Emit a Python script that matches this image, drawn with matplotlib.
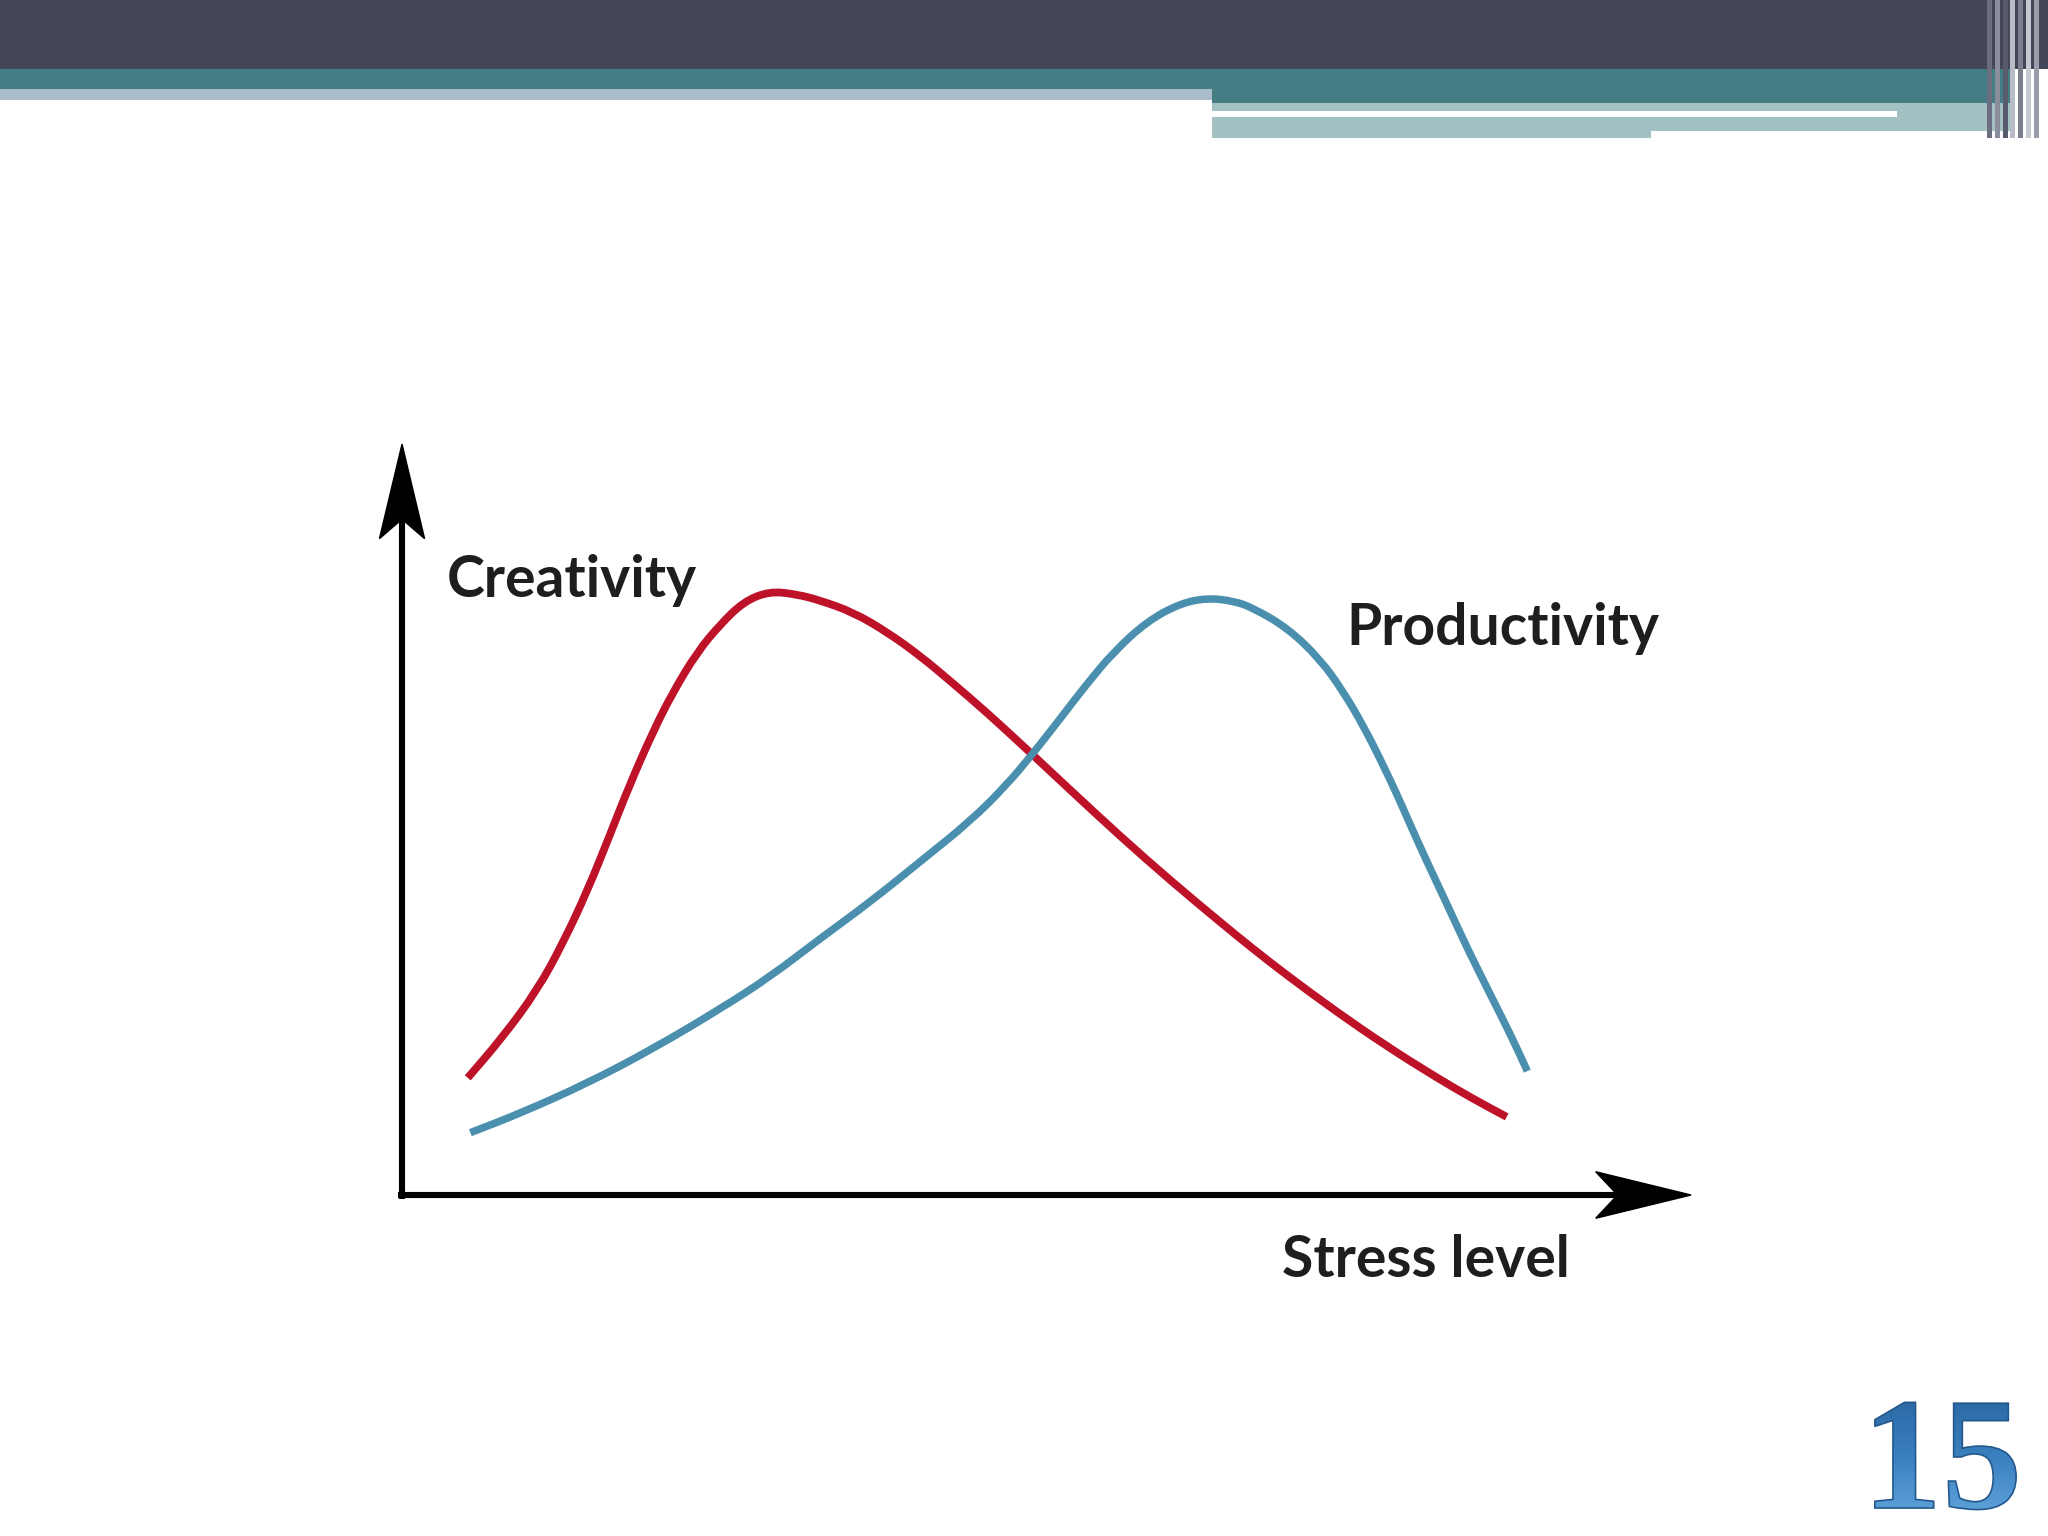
import numpy as np
import matplotlib.pyplot as plt
from matplotlib.patches import Rectangle, PathPatch, Polygon
from matplotlib.path import Path
from matplotlib.textpath import TextPath
from matplotlib.font_manager import FontProperties
from matplotlib.colors import LinearSegmentedColormap
from matplotlib.transforms import Affine2D

# curves (stress level 0-100, response 0-100)
creativity_x = [5.1, 7.8, 10.5, 12.5, 14.4, 16.0, 17.7, 19.5, 21.0, 22.9, 24.7, 26.5, 28.5,
                30.6, 32.4, 35.0, 37.6, 40.2, 42.7, 45.4, 48.5, 51.8, 55.7, 59.6, 63.5,
                66.0, 68.7, 72.5, 76.4, 80.3, 83.1, 85.7]
creativity_y = [15.6, 21.0, 27.3, 33.6, 40.6, 47.4, 54.8, 61.8, 66.9, 72.3, 76.0, 79.0, 80.4,
                80.0, 79.2, 77.6, 75.0, 71.8, 68.2, 64.2, 59.3, 54.0, 47.8, 41.9, 36.3,
                32.8, 29.2, 24.4, 19.8, 15.6, 12.8, 10.4]
productivity_x = [5.3, 9.2, 14.4, 19.5, 24.7, 28.5, 32.4, 36.3, 40.2, 44.1, 46.9, 49.0, 51.0,
                  53.1, 55.2, 57.8, 60.4, 62.5, 64.5, 66.0, 68.7, 71.2, 73.0, 74.6, 75.9,
                  77.2, 78.4, 79.4, 81.1, 82.6, 84.4, 86.1, 87.3]
productivity_y = [8.3, 10.9, 14.9, 19.5, 24.8, 29.0, 34.1, 39.0, 44.4, 49.8, 54.6, 58.9, 63.3,
                  68.0, 72.3, 76.4, 78.8, 79.5, 79.1, 78.2, 75.5, 71.4, 67.1, 62.4, 58.0,
                  53.3, 48.6, 44.8, 38.6, 33.0, 26.8, 21.0, 16.5]

red = '#be1229'
blue = '#4b8fae'
ink = '#1e1e1e'


def smooth_path(xs, ys):
    pts = list(zip(xs, ys))
    verts = [pts[0], ((pts[0][0] + pts[1][0]) / 2, (pts[0][1] + pts[1][1]) / 2)]
    codes = [Path.MOVETO, Path.LINETO]
    for i in range(1, len(pts) - 1):
        a, b = pts[i], pts[i + 1]
        verts += [a, ((a[0] + b[0]) / 2, (a[1] + b[1]) / 2)]
        codes += [Path.CURVE3, Path.CURVE3]
    verts.append(pts[-1])
    codes.append(Path.LINETO)
    return Path(verts, codes)


fig = plt.figure(figsize=(20.48, 15.36), dpi=100)
fig.patch.set_facecolor('white')

# slide header
bg = fig.add_axes([0, 0, 1, 1])
bg.axis('off')
bg.add_patch(Rectangle((0, 0), 2048, 69, color='#434656', lw=0))
bg.add_patch(Rectangle((0, 69), 1212, 20, color='#457d85', lw=0))
bg.add_patch(Rectangle((0, 89), 1212, 11, color='#a8bdc9', lw=0))
bg.add_patch(Rectangle((1212, 69), 800, 34, color='#457d85', lw=0))
bg.add_patch(Rectangle((1212, 103), 800, 35, color='#a3c0c2', lw=0))
bg.add_patch(Rectangle((1212, 111), 685, 6, color='white', lw=0))
bg.add_patch(Rectangle((1651, 131), 360, 8, color='white', lw=0))
for x, c in [(1987, '#6b6e7e'), (1995, '#8a8d9c'), (2003, '#585b6b'), (2010, '#b8bcc6'),
             (2018, '#7b7f8e'), (2026, '#c5c9d1'), (2034, '#9a9eab')]:
    bg.add_patch(Rectangle((x, 0), 5, 138, color=c, lw=0))

# page number with a vertical blue gradient (dark on top, lighter below)
num_path = TextPath((0, 0), '15', size=160,
                    prop=FontProperties(family='Liberation Serif', weight='bold'))
num_tr = Affine2D().scale(1, -1).translate(1862, 1508) + bg.transData
num_patch = PathPatch(num_path, transform=num_tr, fc='none', ec='#24588c', lw=1.2, zorder=2)
bg.add_patch(num_patch)
grad = np.linspace(0, 1, 256).reshape(-1, 1)
cmap = LinearSegmentedColormap.from_list('num', ['#2c69a6', '#3a80bf', '#5fa3da'])
img = bg.imshow(grad, cmap=cmap, extent=(1855, 2030, 1515, 1400), origin='upper',
                aspect='auto', zorder=1)
img.set_clip_path(num_patch)
bg.set_xlim(0, 2048)
bg.set_ylim(1536, 0)

# chart
ax = fig.add_axes([0.1963, 0.2220, 0.6294, 0.4889])
ax.set_xlim(0, 100)
ax.set_ylim(0, 100)
ax.axis('off')

ax.plot([-0.003, 0.945], [0, 0], transform=ax.transAxes, color='black', lw=4.4,
        clip_on=False, solid_capstyle='butt')
ax.plot([0, 0], [-0.005, 0.905], transform=ax.transAxes, color='black', lw=4.4,
        clip_on=False, solid_capstyle='butt')
ax.add_patch(Polygon([(1.0, 0), (0.926, 0.031), (0.943, 0), (0.926, -0.031)], closed=True,
                     transform=ax.transAxes, fc='black', ec='black', lw=1, clip_on=False))
ax.add_patch(Polygon([(0, 1.0), (-0.0175, 0.874), (0, 0.900), (0.0175, 0.874)], closed=True,
                     transform=ax.transAxes, fc='black', ec='black', lw=1, clip_on=False))

ax.add_patch(PathPatch(smooth_path(creativity_x, creativity_y), fill=False, ec=red, lw=5.6,
                       capstyle='butt', joinstyle='round'))
ax.add_patch(PathPatch(smooth_path(productivity_x, productivity_y), fill=False, ec=blue,
                       lw=5.4, capstyle='butt', joinstyle='round'))

label_font = dict(fontsize=41, family='Lato', fontweight='bold', color=ink, va='baseline')
ax.text(3.5, 79.6, 'Creativity', ha='left', **label_font)
ax.text(73.3, 73.2, 'Productivity', ha='left', **label_font)
ax.text(68.3, -10.9, 'Stress level', ha='left', **label_font)

fig.savefig('out.png', dpi=100)
